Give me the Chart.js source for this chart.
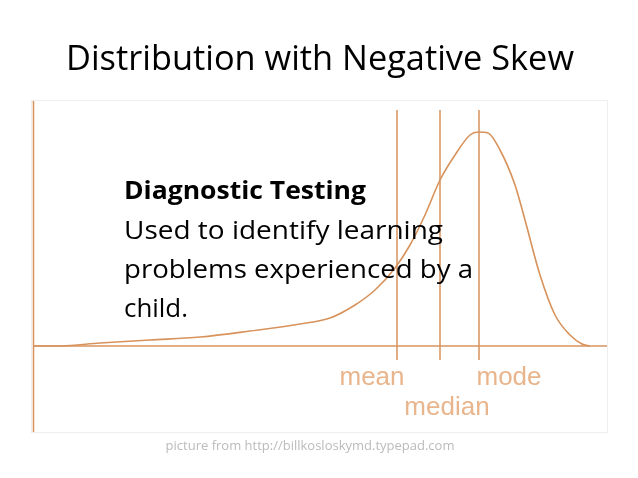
<!DOCTYPE html>
<html><head><meta charset="utf-8">
<script src="https://cdn.jsdelivr.net/npm/chart.js@4"></script>
<style>html,body{margin:0;padding:0;background:#fff}#c{display:block}</style>
</head><body>
<div style="width:638px;height:478px"><canvas id="c"></canvas></div>
<script>
const curveX = [33,60,100,150,200,250,300,330,355,375,395,410,425,440,455,470,478,488,500,515,525,540,555,570,582,590];
const curveY = [0,0,3,6,9,15,22,28,41,56,78,101,131,166,191,211,214,213,196,161,126,71,31,11,2,0];
const markerX = [397,440,479];
const markerLabels = ['mean','median','mode'];
const orange = '#d8935c';
const ds = [{data: curveX.map((x,i)=>({x,y:curveY[i]})), borderColor:orange, borderWidth:1.6, pointRadius:0, tension:0.4, cubicInterpolationMode:'monotone'}];
markerX.forEach(x=>ds.push({data:[{x,y:236},{x,y:-14}], borderColor:orange, borderWidth:1.5, pointRadius:0}));
ds.push({data:[{x:33,y:0},{x:607,y:0}], borderColor:orange, borderWidth:1.5, pointRadius:0});
ds.push({data:[{x:33.5,y:246},{x:33.5,y:-86}], borderColor:orange, borderWidth:1.5, pointRadius:0});
function fit(c,s,x,y,w){const m=c.measureText(s).width;c.save();c.translate(x,y);c.scale(w/m,1);c.fillText(s,0,0);c.restore();}
const textPlugin = {id:'t', afterDraw(ch){
  const c=ch.ctx;
  c.save();
  c.strokeStyle='#eeeeee'; c.lineWidth=1; c.strokeRect(31.5,100.5,576,332);
  c.fillStyle='#000'; c.textAlign='left'; c.textBaseline='middle';
  c.font='34px "Open Sans", sans-serif'; fit(c,'Distribution with Negative Skew',66,60,508);
  c.fillStyle='#e9b58c'; c.font='26px "Liberation Sans", Arial, sans-serif'; c.textAlign='center';
  const lp=[[372,378],[447,408],[509,378]];
  markerLabels.forEach((l,i)=>c.fillText(l,lp[i][0],lp[i][1]));
  c.fillStyle='#000'; c.textAlign='left';
  c.font='bold 25px "Open Sans", sans-serif'; fit(c,'Diagnostic Testing',124,192,242);
  c.font='26px "Open Sans", sans-serif';
  const lines=['Used to identify learning','problems experienced by a','child.'], ws=[319,349,64];
  lines.forEach((s,i)=>fit(c,s,124,232+i*39,ws[i]));
  c.fillStyle='#bbbbbb'; c.textAlign='center'; c.font='13px "Open Sans", sans-serif';
  c.fillText('picture from http://billkosloskymd.typepad.com',310,446);
  c.restore();
}};
new Chart(document.getElementById('c'),{type:'line',data:{datasets:ds},
 options:{responsive:true,maintainAspectRatio:false,animation:false,
  layout:{padding:{left:31,right:31,top:100,bottom:46}},
  plugins:{legend:{display:false},tooltip:{enabled:false}},
  scales:{x:{type:'linear',min:31,max:607,display:false},y:{min:-86,max:246,display:false}}},
 plugins:[textPlugin]});
</script></body></html>
